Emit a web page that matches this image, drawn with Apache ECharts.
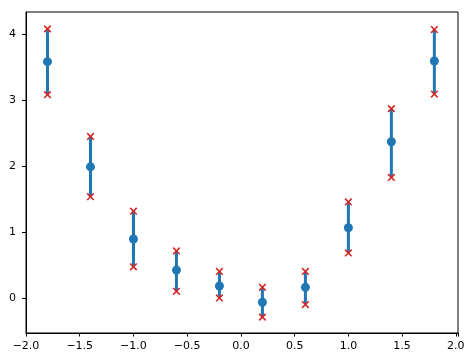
<!DOCTYPE html>
<html>
<head>
<meta charset="utf-8">
<script src="https://cdn.jsdelivr.net/npm/echarts@6/dist/echarts.min.js"></script>
<style>html,body{margin:0;padding:0;background:#fff}#c{width:474px;height:362px}</style>
</head>
<body>
<div id="c"></div>
<script>
var xs = [-1.8, -1.4, -1.0, -0.6, -0.2, 0.2, 0.6, 1.0, 1.4, 1.8];
var ys = [3.58, 1.99, 0.90, 0.43, 0.19, -0.055, 0.17, 1.07, 2.37, 3.59];
var lower = [3.08, 1.54, 0.48, 0.11, 0.01, -0.28, -0.09, 0.69, 1.83, 3.09];
var upper = [4.075, 2.45, 1.32, 0.72, 0.41, 0.17, 0.41, 1.46, 2.87, 4.065];
var yTicks = [0, 1, 2, 3, 4];

var barData = xs.map(function (x, i) { return [x, lower[i], upper[i]]; });
var pointData = xs.map(function (x, i) { return [x, ys[i]]; });
var capData = [];
xs.forEach(function (x, i) { capData.push([x, lower[i]]); capData.push([x, upper[i]]); });

function fmt(v) {
  var s = (Math.abs(v) < 1e-9 ? 0 : v).toFixed(1);
  return s.replace('-', '\u2212');
}

var chart = echarts.init(document.getElementById('c'), null, {renderer: 'canvas'});
chart.setOption({
  animation: false,
  backgroundColor: '#fff',
  grid: {left: 26, right: 16, top: 12, bottom: 29, show: true, borderColor: '#000', borderWidth: 1, backgroundColor: 'transparent'},
  xAxis: {
    type: 'value', min: -2, max: 2.02, interval: 0.5,
    splitLine: {show: false},
    axisLine: {show: true, onZero: false, lineStyle: {color: '#000', width: 1}},
    axisTick: {show: true, length: 3.5, inside: false, lineStyle: {color: '#000', width: 1}},
    axisLabel: {margin: 8, color: '#000', fontFamily: 'DejaVu Sans', fontSize: 11, showMaxLabel: true, showMinLabel: true,
      formatter: function (v) { return Math.abs(v - 2.02) < 1e-6 ? '' : fmt(v); }}
  },
  yAxis: {
    type: 'value', min: -0.52, max: 4.33,
    splitLine: {show: false},
    axisLine: {show: true, onZero: false, lineStyle: {color: '#000', width: 1}},
    axisTick: {show: true, length: 4, customValues: yTicks, lineStyle: {color: '#000', width: 1}},
    axisLabel: {margin: 10, color: '#000', fontFamily: 'DejaVu Sans', fontSize: 11, customValues: yTicks,
      formatter: function (v) { return String(Math.round(v)); }}
  },
  series: [
    {
      type: 'custom', z: 1, data: barData,
      renderItem: function (params, api) {
        var p1 = api.coord([api.value(0), api.value(1)]);
        var p2 = api.coord([api.value(0), api.value(2)]);
        return {type: 'line', shape: {x1: p1[0], y1: p1[1], x2: p2[0], y2: p2[1]},
          style: {stroke: '#1f77b4', lineWidth: 3}};
      }
    },
    {
      type: 'scatter', z: 2, data: pointData, symbol: 'circle', symbolSize: 9,
      itemStyle: {color: '#1f77b4', opacity: 1}
    },
    {
      type: 'custom', z: 3, data: capData,
      renderItem: function (params, api) {
        var p = api.coord([api.value(0), api.value(1)]);
        var r = 3.3;
        return {type: 'group', children: [
          {type: 'line', shape: {x1: p[0] - r, y1: p[1] - r, x2: p[0] + r, y2: p[1] + r}, style: {stroke: '#d62728', lineWidth: 1.6}},
          {type: 'line', shape: {x1: p[0] - r, y1: p[1] + r, x2: p[0] + r, y2: p[1] - r}, style: {stroke: '#d62728', lineWidth: 1.6}}
        ]};
      }
    }
  ]
});
</script>
</body>
</html>
